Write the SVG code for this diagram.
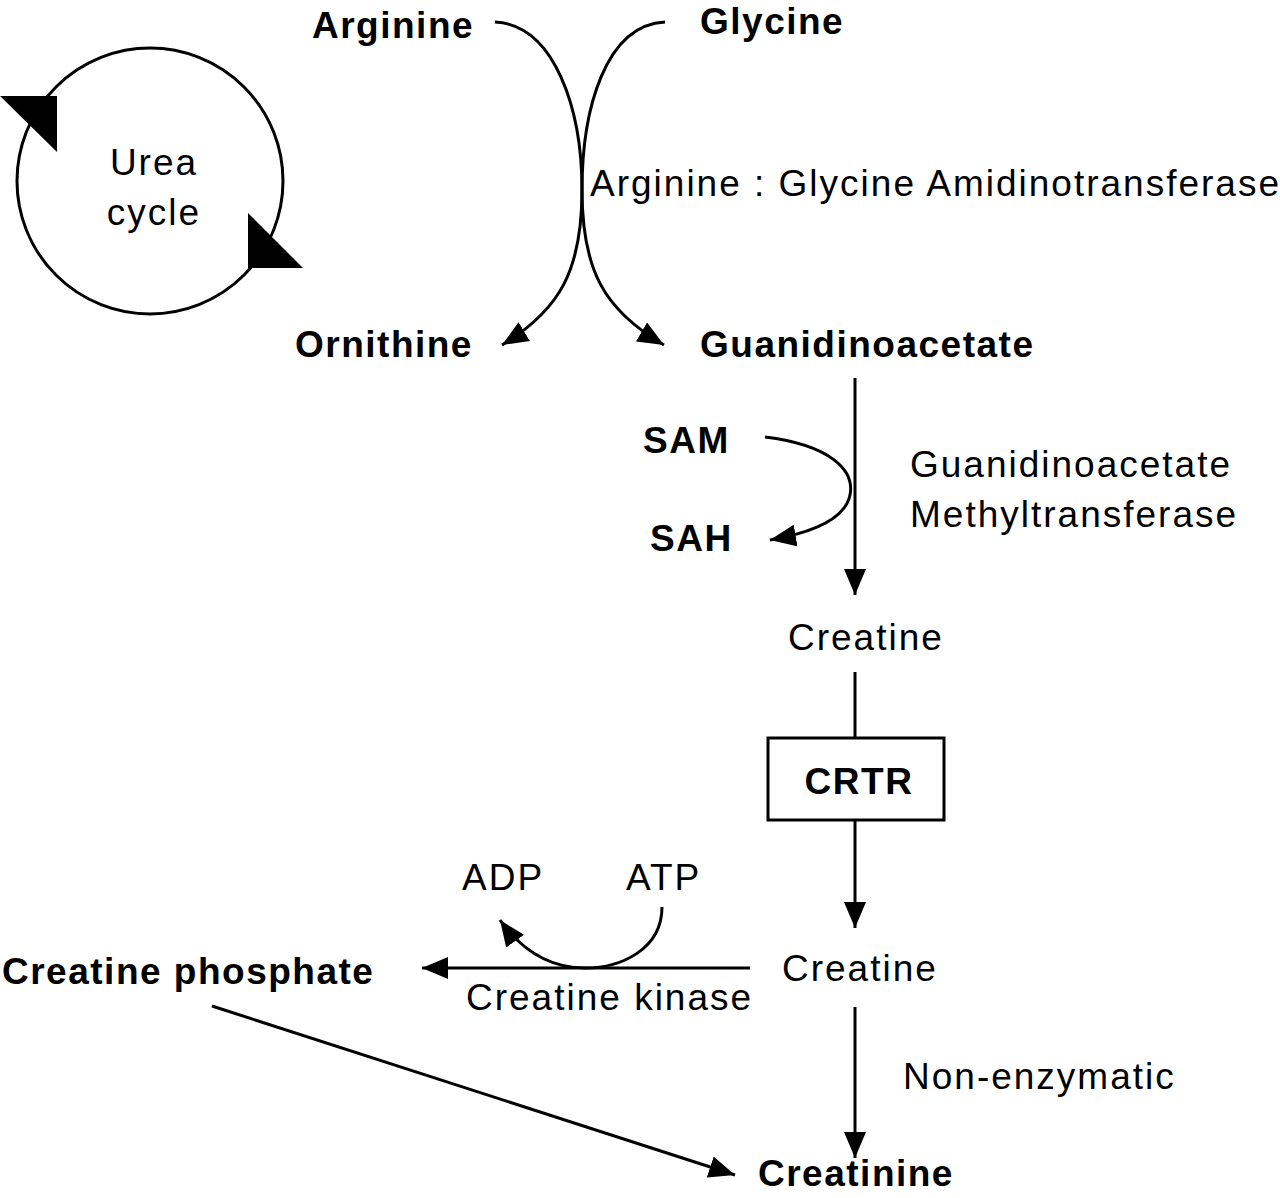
<svg xmlns="http://www.w3.org/2000/svg" width="1280" height="1198" viewBox="0 0 1280 1198">
<defs>
<style>
.t{font-family:"Liberation Sans",Arial,sans-serif;font-size:37px;letter-spacing:2px;fill:#000}
.b{font-weight:bold;letter-spacing:1.5px}
.l{fill:none;stroke:#000;stroke-width:3}
</style>
<marker id="a" viewBox="-26 -11 27 22" refX="0" refY="0" markerWidth="27" markerHeight="22" markerUnits="userSpaceOnUse" orient="auto">
<path d="M-26,-11 L0,0 L-26,11 Z"/>
</marker>
</defs>
<rect width="1280" height="1198" fill="#fff"/>
<g id="urea">
<circle cx="150" cy="181" r="133" class="l"/>
<polygon points="0,96 57,96 57,152"/>
<polygon points="248,213 248,268 303,268"/>
<text class="t" x="154" y="175" text-anchor="middle">Urea</text>
<text class="t" x="154" y="225" text-anchor="middle">cycle</text>
</g>
<g id="connectors">
<path class="l" d="M495,22 C555,25 582,110 582,190 C582,270 560,310 502,345" marker-end="url(#a)"/>
<path class="l" d="M665,22 C605,25 582,110 582,190 C582,270 604,310 664,345" marker-end="url(#a)"/>
<path class="l" d="M855,378 V595" marker-end="url(#a)"/>
<path class="l" d="M765,437 C830,445 855,470 850,495 C845,520 810,533 770,540" marker-end="url(#a)"/>
<path class="l" d="M855,672 V738"/>
<path class="l" d="M855,820 V928" marker-end="url(#a)"/>
<path class="l" d="M750,968 H422" marker-end="url(#a)"/>
<path class="l" d="M662,907 C662,950 620,968 585,968 C555,968 525,955 500,920" marker-end="url(#a)"/>
<path class="l" d="M855,1007 V1158" marker-end="url(#a)"/>
<path class="l" d="M212,1006 L735,1175" marker-end="url(#a)"/>
</g>
<g id="arginine"><text class="t b" x="312" y="38">Arginine</text></g>
<g id="glycine"><text class="t b" x="700" y="34">Glycine</text></g>
<g id="agat"><text class="t" x="590" y="196">Arginine : Glycine Amidinotransferase</text></g>
<g id="ornithine"><text class="t b" x="295" y="357">Ornithine</text></g>
<g id="gaa"><text class="t b" x="700" y="357">Guanidinoacetate</text></g>
<g id="sam"><text class="t b" x="643" y="453">SAM</text></g>
<g id="sah"><text class="t b" x="650" y="551">SAH</text></g>
<g id="gamt"><text class="t" x="910" y="477">Guanidinoacetate</text><text class="t" x="910" y="527">Methyltransferase</text></g>
<g id="creatine1"><text class="t" x="788" y="650">Creatine</text></g>
<g id="crtr"><rect x="768" y="738" width="176" height="82" class="l"/><text class="t b" x="859" y="794" text-anchor="middle">CRTR</text></g>
<g id="adp"><text class="t" x="462" y="890">ADP</text></g>
<g id="atp"><text class="t" x="626" y="890">ATP</text></g>
<g id="creatine2"><text class="t" x="782" y="981">Creatine</text></g>
<g id="cp"><text class="t b" x="2" y="984">Creatine phosphate</text></g>
<g id="ck"><text class="t" x="466" y="1010">Creatine kinase</text></g>
<g id="nonenz"><text class="t" x="903" y="1089">Non-enzymatic</text></g>
<g id="creatinine"><text class="t b" x="758" y="1186">Creatinine</text></g>
</svg>
